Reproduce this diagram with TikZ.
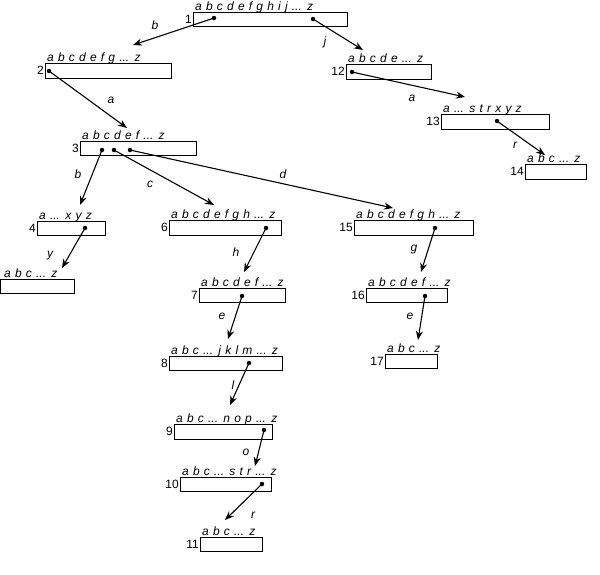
\documentclass[tikz,border=0pt]{standalone}
\usepackage{fontspec}
\setmainfont{Liberation Sans}
\usetikzlibrary{arrows.meta}
\newcommand{\widesp}{\spaceskip=4.2pt\relax}
\begin{document}
\begin{tikzpicture}[x=1pt,y=-1pt,
 bx/.style={draw,line width=1pt},
 lt/.style={font=\itshape\fontsize{12}{12}\selectfont,anchor=base west,inner sep=0pt},
 num/.style={font=\fontsize{12}{12}\selectfont,anchor=east,inner sep=1pt},
 ar/.style={line width=1.1pt,-{Stealth[length=9pt,width=7pt]}},
 dt/.style={circle,fill,inner sep=0pt,minimum size=4.5pt},
 el/.style={font=\itshape\fontsize{12}{12}\selectfont,inner sep=0pt}]
\useasboundingbox (0,0) rectangle (600,574);
\foreach \n/\a/\b/\c/\d/\t in {
 1/193/12/347/26/{a b c d e f g h i j ... z},
 2/45/63/171/78/{a b c d e f g ... z},
 3/80/141/196/155/{a b c d e f ... z},
 4/37/221/105/235/{a ... x y z},
 6/169/220/281/235/{a b c d e f g h ... z},
 7/199/288/285/302/{a b c d e f ... z},
 8/169/356/282/370/{a b c ... j k l m ... z},
 9/174/424/272/439/{a b c ... n o p ... z},
 10/180/477/271/491/{a b c ... s t r ... z},
 11/200/537/262/551/{a b c ... z},
 12/346/64/431/79/{a b c d e ... z},
 13/441/114/549/129/{a ... s t r x y z},
 14/525/164/586/179/{a b c ... z},
 15/354/220/473/235/{a b c d e f g h ... z},
 16/366/288/447/302/{a b c d e f ... z},
 17/385/354/437/368/{a b c ... z}}{
 \draw[bx] (\a,\b) rectangle (\c,\d);
 \node[num] (n\n) at (\a,{(\b+\d)/2}) {\n};
 \node[lt] (t\n) at ({\a+2},{\b-2}) {\widesp\t};
}
\draw[bx] (0,279) rectangle (74,293);
\node[lt] (t5) at (4,277) {\widesp a b c ... z};
\foreach \i/\sx/\sy/\ex/\ey/\l/\lx/\ly in {
 a/214/18/133/45/b/155/25,
 b/313/19/363/50/j/325/42,
 c/49/71/127/128/a/111/100,
 d/352/72/465/97/a/412/98,
 e/497/121/545/155/r/515/145,
 f/102/150/80/205/b/78/174,
 g/114/150/214/205/c/150/184,
 h/130/150/393/208/d/283/174,
 i/85/228/62/268/y/50/256,
 j/266/228/244/272/h/236/252,
 k/435/228/421/272/g/414/250,
 l/242/296/228/339/e/222/316,
 m/425/296/418/340/e/410/316,
 n/249/363/230/405/l/233/385,
 o/264/430/255/466/o/246/452,
 p/262/484/225/520/r/253/515}{
 \node[dt] (s\i) at (\sx,\sy) {};
 \coordinate (e\i) at (\ex,\ey);
 \draw[ar] (s\i.center) -- (e\i);
 \node[el] (l\i) at (\lx,\ly) {\l};
}
\end{tikzpicture}
\end{document}
